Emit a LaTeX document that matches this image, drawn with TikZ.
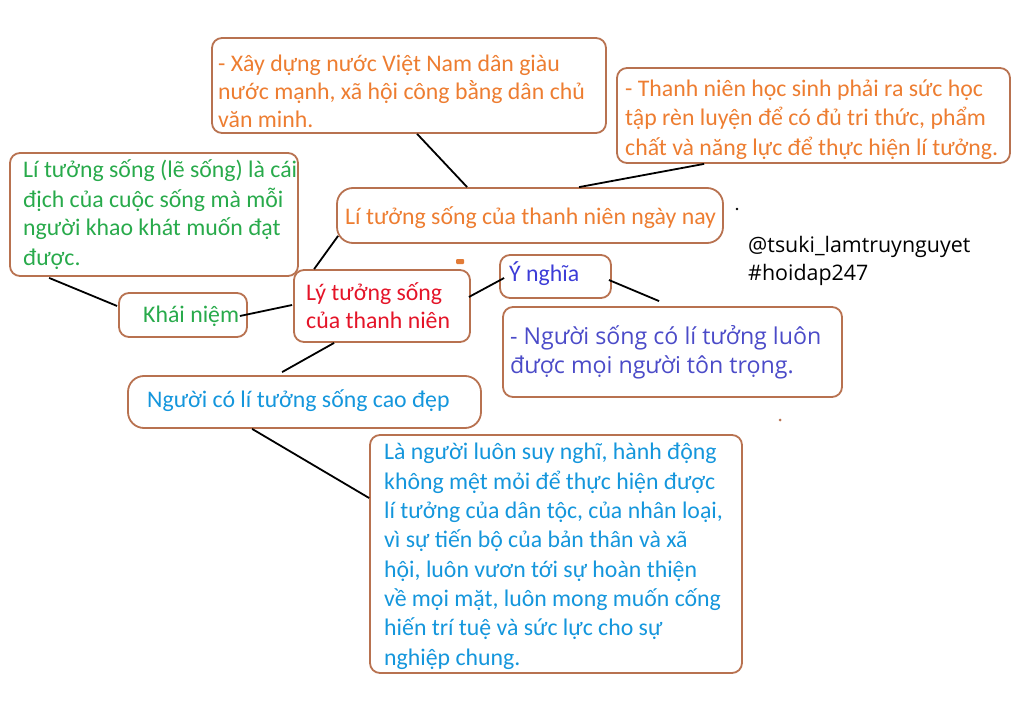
\documentclass[tikz,border=0pt]{standalone}
\usepackage{fontspec}
\setmainfont{Carlito}
\newfontfamily\calib{Carlito}
\newfontfamily\segoe{Open Sans}
\usetikzlibrary{calc}
\definecolor{boxline}{RGB}{184,114,80}
\definecolor{orangetxt}{RGB}{237,125,49}
\definecolor{greentxt}{RGB}{40,170,75}
\definecolor{redtxt}{RGB}{228,20,40}
\definecolor{bluetxt}{RGB}{60,60,215}
\definecolor{purpletxt}{RGB}{75,75,200}
\definecolor{cyantxt}{RGB}{20,150,220}
\tikzset{
  mbox/.style={draw=boxline, line width=1.8pt, rounded corners=10pt, anchor=center, inner sep=0pt},
  oval/.style={mbox, rounded corners=16pt},
  txt/.style={anchor=base west, inner sep=0pt, align=left, font=\calib\fontsize{23.8}{29}\selectfont},
  link/.style={draw=black, line width=1.8pt},
}
\begin{document}
\begin{tikzpicture}[x=1pt,y=-1pt]
\useasboundingbox (0,0) rectangle (1024,703);
% boxes
\node[mbox, minimum width=394pt, minimum height=95pt] (A) at (409,85.5) {};
\node[mbox, minimum width=393pt, minimum height=95pt] (B) at (813.5,115.5) {};
\node[mbox, minimum width=288pt, minimum height=123pt] (C) at (154,214.5) {};
\node[oval, minimum width=386pt, minimum height=55pt] (D) at (530,215.5) {};
\node[mbox, minimum width=128pt, minimum height=44pt] (E) at (183,315) {};
\node[mbox, minimum width=176pt, minimum height=72pt] (F) at (382,306) {};
\node[mbox, minimum width=111pt, minimum height=43pt] (G) at (555.5,276.5) {};
\node[mbox, minimum width=339pt, minimum height=90pt] (H) at (672.5,352) {};
\node[oval, minimum width=353pt, minimum height=52pt] (I) at (304.5,402) {};
\node[mbox, minimum width=372pt, minimum height=238pt] (J) at (556,554) {};
% texts (multi-line texts are anchored at the baseline of their last line)
\node[txt, text=orangetxt, font=\calib\fontsize{23.8}{28}\selectfont] (At) at (218,128)
  {- Xây dựng nước Việt Nam dân giàu\\nước mạnh, xã hội công bằng dân chủ\\văn minh.};
\node[txt, text=orangetxt, font=\calib\fontsize{23.8}{29.3}\selectfont] (Bt) at (625,155.3)
  {- Thanh niên học sinh phải ra sức học\\tập rèn luyện để có đủ tri thức, phẩm\\chất và năng lực để thực hiện lí tưởng.};
\node[txt, text=greentxt] (Ct) at (23,265)
  {Lí tưởng sống (lẽ sống) là cái\\địch của cuộc sống mà mỗi\\người khao khát muốn đạt\\được.};
\node[txt, text=orangetxt] (Dt) at (345,225) {Lí tưởng sống của thanh niên ngày nay};
\node[txt, text=greentxt] (Et) at (143,322) {Khái niệm};
\node[txt, text=redtxt, font=\calib\fontsize{23.8}{28}\selectfont] (Ft) at (306,328) {Lý tưởng sống\\của thanh niên};
\node[txt, text=bluetxt] (Gt) at (509,281) {Ý nghĩa};
\node[txt, text=purpletxt, font=\segoe\fontsize{23.2}{29}\selectfont] (Ht) at (510,373)
  {- Người sống có lí tưởng luôn\\được mọi người tôn trọng.};
\node[txt, text=cyantxt] (It) at (147,407) {Người có lí tưởng sống cao đẹp};
\node[txt, text=cyantxt, font=\calib\fontsize{23.8}{29.3}\selectfont] (Jt) at (384,665)
  {Là người luôn suy nghĩ, hành động\\không mệt mỏi để thực hiện được\\lí tưởng của dân tộc, của nhân loại,\\vì sự tiến bộ của bản thân và xã\\hội, luôn vươn tới sự hoàn thiện\\về mọi mặt, luôn mong muốn cống\\hiến trí tuệ và sức lực cho sự\\nghiệp chung.};
% watermark
\node[txt, font=\segoe\fontsize{21.4}{28}\selectfont] (W) at (748,280) {@tsuki\_lamtruynguyet\\\#hoidap247};
% connectors
\draw[link] ($(A.south west)+(206,0)$) -- ($(D.north west)+(131,0)$);
\draw[link] ($(B.south west)+(88,0)$) -- ($(D.north west)+(243,0)$);
\draw[link] ($(C.south west)+(40,1)$) -- ($(E.west)+(-1,-9)$);
\draw[link] ($(E.east)+(-8,1)$) -- ($(F.west)+(-1,-1)$);
\draw[link] ($(F.north west)+(21,0)$) -- ($(D.south west)+(2,-8)$);
\draw[link] ($(F.east)+(-2,-9)$) -- ($(G.west)+(5,1.5)$);
\draw[link] ($(G.east)+(-3,3.5)$) -- ($(H.north west)+(157,-5)$);
\draw[link] ($(F.south west)+(41,0)$) -- ($(I.north west)+(155,-3)$);
\draw[link] ($(I.south west)+(125,0)$) -- ($(J.west)+(0,-56)$);
% stray marks
\fill[orangetxt!80!boxline, rounded corners=1pt] (456,259) rectangle (464,264);
\fill[black] (737,209) circle (1.3pt);
\fill[boxline] (780,420) circle (1.5pt);
\end{tikzpicture}
\end{document}
